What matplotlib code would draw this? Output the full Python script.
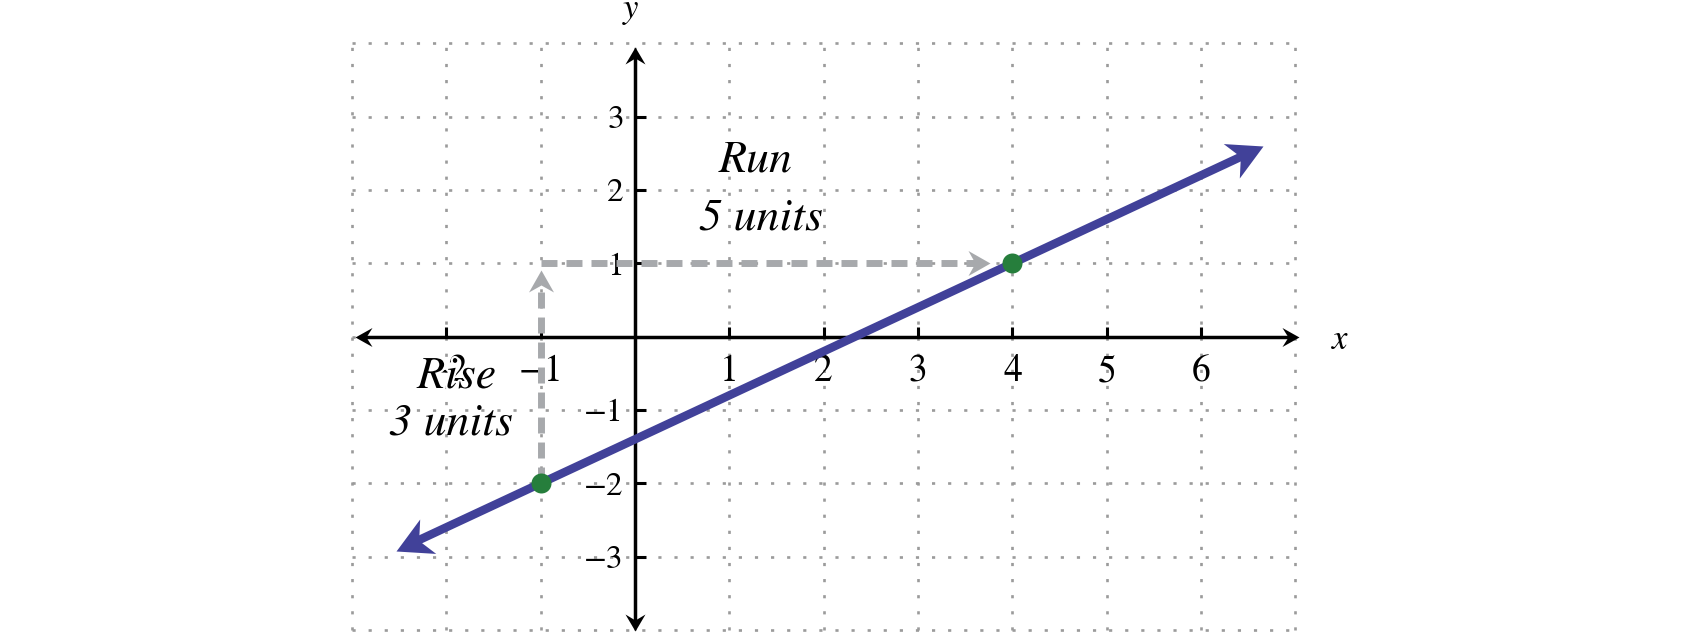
import numpy as np
import matplotlib.pyplot as plt
import matplotlib.patheffects as pe
from matplotlib.path import Path
from matplotlib.markers import MarkerStyle
from matplotlib.transforms import Affine2D

# Times-like serif; STIXGeneral ships with matplotlib
plt.rcParams['font.family'] = ['STIXGeneral', 'Liberation Serif', 'DejaVu Serif']

# --- data ---
pt_x = [-1, 4]            # the two green points
pt_y = [-2, 1]
line_x = [-2.53, 6.66]    # blue line runs between these x values (arrow tips)
rise_top = 0.91           # tip of the vertical gray arrow
run_end = 3.76            # tip of the horizontal gray arrow
grid_x = list(range(-3, 8))
grid_y = list(range(-4, 5))
xticks = [-2, -1, 1, 2, 3, 4, 5, 6]
yticks = [-3, -2, -1, 1, 2, 3]
x_axis_ends = [-2.97, 7.04]
y_axis_ends = [-4.02, 3.95]

BLUE = '#414199'
GREEN = '#267e3c'
GRAY = '#a7a9ac'
GRIDC = '#9b9b9b'

fig = plt.figure(figsize=(17, 6.33), dpi=100)
ax = fig.add_axes([0, 0, 1, 1])
ax.set_xlim(-6.730, 11.288)
ax.set_ylim(-4.041, 4.591)


def head_path(length, half, notch):
    verts = [(0, 0), (-length, half), (-notch, 0), (-length, -half), (0, 0)]
    codes = [Path.MOVETO, Path.LINETO, Path.LINETO, Path.LINETO, Path.CLOSEPOLY]
    return Path(verts, codes)


def disp_angle(p_from, p_to):
    a, b = ax.transData.transform([p_from, p_to])
    return np.degrees(np.arctan2(b[1] - a[1], b[0] - a[0]))


def back_off(tip, toward, px):
    t = ax.transData.transform(tip)
    o = ax.transData.transform(toward)
    d = (o - t) / np.hypot(*(o - t))
    return ax.transData.inverted().transform(t + d * px)


def draw_head(tip, toward, length, half, notch, color, z):
    ang = disp_angle(toward, tip)
    m = MarkerStyle(head_path(length, half, notch),
                    transform=Affine2D().rotate_deg(ang))
    ax.plot([tip[0]], [tip[1]], marker=m, ms=2 * length * 0.72,
            color=color, mew=0, ls='none', zorder=z)


# grid
dots = (0, (1.2, 4.9))
ax.vlines(grid_x, grid_y[0], grid_y[-1], colors=GRIDC, linestyles=[dots], lw=1.9, zorder=1)
ax.hlines(grid_y, grid_x[0], grid_x[-1], colors=GRIDC, linestyles=[dots], lw=1.9, zorder=1)

# axes through the origin
for s in ['top', 'right']:
    ax.spines[s].set_visible(False)
ax.spines['bottom'].set_position(('data', 0))
ax.spines['left'].set_position(('data', 0))
for s in ['bottom', 'left']:
    ax.spines[s].set_linewidth(2.5)
    ax.spines[s].set_zorder(3)
xa = back_off((x_axis_ends[0], 0), (0, 0), 10)[0]
xb = back_off((x_axis_ends[1], 0), (0, 0), 10)[0]
ax.spines['bottom'].set_bounds(xa, xb)
ya = back_off((0, y_axis_ends[0]), (0, 0), 10)[1]
yb = back_off((0, y_axis_ends[1]), (0, 0), 10)[1]
ax.spines['left'].set_bounds(ya, yb)

ax.set_xticks(xticks)
ax.set_xticklabels([str(v).replace('-', '\u2212') for v in xticks])
ax.set_yticks(yticks)
ax.set_yticklabels([str(v).replace('-', '\u2212') for v in yticks])
ax.tick_params(axis='x', direction='in', length=7, width=2.2, pad=13, labelsize=27)
ax.tick_params(axis='y', direction='in', length=8, width=2.2, pad=8, labelsize=24)

for e in x_axis_ends:
    draw_head((e, 0), (0, 0), 17, 9.5, 11, 'black', 3.5)
for e in y_axis_ends:
    draw_head((0, e), (0, 0), 17, 10, 11, 'black', 3.5)

# rise / run gray dashed arrows
gkw = dict(color=GRAY, lw=5, ls=(0, (2.3, 1.3)), dash_capstyle='butt', zorder=2)
v_end = back_off((pt_x[0], rise_top), (pt_x[0], pt_y[0]), 14)
ax.plot([pt_x[0], v_end[0]], [pt_y[0], v_end[1]], **gkw)
draw_head((pt_x[0], rise_top), (pt_x[0], pt_y[0]), 22, 12.5, 15, GRAY, 2)
h_end = back_off((run_end, pt_y[1]), (pt_x[0], pt_y[1]), 14)
ax.plot([pt_x[0], h_end[0]], [pt_y[1], h_end[1]], **gkw)
draw_head((run_end, pt_y[1]), (pt_x[0], pt_y[1]), 22, 12.5, 15, GRAY, 2)

# blue line through the two points
slope = (pt_y[1] - pt_y[0]) / (pt_x[1] - pt_x[0])
tips = [(x, pt_y[0] + slope * (x - pt_x[0])) for x in line_x]
a = back_off(tips[0], tips[1], 24)
b = back_off(tips[1], tips[0], 24)
ax.plot([a[0], b[0]], [a[1], b[1]], color=BLUE, lw=6.1, solid_capstyle='butt', zorder=4)
draw_head(tips[0], tips[1], 35, 19, 25, BLUE, 4)
draw_head(tips[1], tips[0], 35, 19, 25, BLUE, 4)

ax.plot(pt_x, pt_y, 'o', ms=14.4, color=GREEN, mew=0, zorder=5)

# labels
tkw = dict(style='italic', size=33, ha='center', va='baseline', zorder=6)
ax.text(1.28, 2.25, 'Run', **tkw)
ax.text(1.33, 1.455, '5 units', **tkw)
wstroke = [pe.withStroke(linewidth=3, foreground='white')]
ax.text(-1.89, -0.70, 'Rise', path_effects=wstroke, **tkw)
ax.text(-1.95, -1.34, '3 units', **tkw)

ax.text(7.47, -0.05, 'x', style='italic', size=25, ha='center', va='center')
ax.text(-0.05, 4.47, 'y', style='italic', size=25, ha='center', va='center')

fig.savefig('out.png', dpi=100)
